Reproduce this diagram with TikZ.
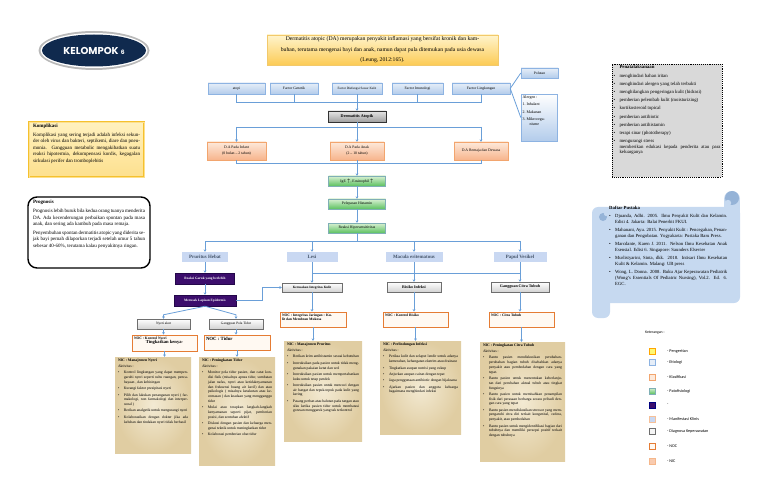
\documentclass[tikz,border=0pt]{standalone}
\usepackage{fontspec}
\setmainfont{Liberation Serif}
\newfontfamily\kfont{Poppins}
\newfontfamily\cfont{Carlito}
\usetikzlibrary{arrows.meta,shapes.geometric,calc}
\tolerance=9999
\emergencystretch=6pt
\newcommand{\fs}[2]{\fontsize{#1}{#2}\selectfont}
\newlength\itgap
\setlength\itgap{1.6pt}
\newcommand{\bitm}[1]{\par\vspace{\itgap}\hangindent=6pt\hangafter=1\noindent\hbox to 6pt{\textbullet\hfil}#1}
\definecolor{conc}{HTML}{6A9FD8}
\definecolor{navy}{HTML}{102A4E}
\definecolor{etiob}{HTML}{8DB3E2}
\definecolor{etiot}{HTML}{E6EEF8}
\definecolor{etiobot}{HTML}{B3CCEB}
\definecolor{klasb}{HTML}{F2A56E}
\definecolor{klast}{HTML}{FDE9DA}
\definecolor{klasbot}{HTML}{F7B48C}
\definecolor{patob}{HTML}{7FAFB5}
\definecolor{patot}{HTML}{D8F0D3}
\definecolor{patobot}{HTML}{5CC160}
\definecolor{manif}{HTML}{C9D8F2}
\definecolor{maniftxt}{HTML}{44546A}
\definecolor{purp}{HTML}{3C0E6C}
\definecolor{purpb}{HTML}{24084A}
\definecolor{diagb}{HTML}{6E6E6E}
\definecolor{nocb}{HTML}{E57C34}
\definecolor{nocf}{HTML}{FFF9F2}
\definecolor{nicin}{HTML}{F3EAD3}
\definecolor{nicout}{HTML}{E0CDA2}
\definecolor{defT}{HTML}{FFF4CC}
\definecolor{defB}{HTML}{FCCB55}
\definecolor{defb}{HTML}{F2C96B}
\definecolor{kompT}{HTML}{FFF1BF}
\definecolor{kompB}{HTML}{FDE08E}
\definecolor{kompb}{HTML}{F5C12E}
\definecolor{penf}{HTML}{D9D9D9}
\definecolor{scrollc}{HTML}{C6D9F0}
\definecolor{scrolld}{HTML}{95B3D7}
\begin{document}
\begin{tikzpicture}[x=1pt,y=-1pt,
 con/.style={draw=conc, line width=0.8pt},
 arr/.style={con, -{Stealth[length=2.4pt,width=2.8pt]}},
 box/.style={inner sep=0.6pt, align=center, line width=0.45pt},
 etio/.style={box, draw=etiob, top color=etiot, bottom color=etiobot, font={\fs{3.7}{4.4}}},
 klas/.style={box, draw=klasb, top color=klast, bottom color=klasbot, font={\fs{3.8}{6}}},
 pato/.style={box, draw=patob, top color=patot, bottom color=patobot, font={\fs{3.8}{4.5}}},
 manbox/.style={box, fill=manif, text=maniftxt, font={\fs{4.9}{5.5}\bfseries}},
 purpbox/.style={box, fill=purp, draw=purpb, text=white, font={\fs{3.4}{4}\bfseries}},
 diag/.style={box, draw=diagb, top color=white, bottom color=gray!35, font={\fs{3.6}{4.2}\bfseries}},
 nocbox/.style={inner sep=1.5pt, draw=nocb, fill=nocf, line width=0.9pt, font={\fs{3.6}{4.5}\bfseries}},
 nicbox/.style={inner sep=0pt, inner color=nicin, outer color=nicout, font={\fs{3.75}{4.75}}},
 swatch/.style={minimum width=6, minimum height=6, inner sep=0, line width=0.6pt},
 leglab/.style={anchor=west, inner sep=0, font={\cfont\fs{4.2}{5}}}
]
\useasboundingbox (0,0) rectangle (768,497);

% title
\node[ellipse, fill=gray!55, minimum width=111, minimum height=39, inner sep=0] (kel) at (94,50.5) {};
\node[ellipse, fill=white, minimum width=107, minimum height=35, inner sep=0] (kelr) at (kel) {};
\node[ellipse, fill=navy, minimum width=104, minimum height=32, inner sep=0, text=white] (keli) at (kel) {\kfont\bfseries\fs{10}{12}KELOMPOK {\fs{6}{7}6}};

% definition
\node[box, draw=defb, top color=defT, bottom color=defB, minimum width=231, minimum height=30, font={\fs{5.7}{10.5}}] (def) at (382.5,50) {Dermatitis atopic (DA) merupakan penyakit inflamasi yang bersifat kronik dan kam-\\buhan, terutama mengenai bayi dan anak, namun dapat pula ditemukan pada usia dewasa\\(Leung, 2012:165).};

% etiology
\node[etio, minimum width=57, minimum height=11] (e1) at (236.5,88.5) {atopi};
\node[etio, minimum width=48, minimum height=11] (e2) at (294,88.5) {Factor Genetik};
\node[etio, minimum width=50, minimum height=11, font={\fs{3.3}{4}}] (e3) at (357,88.5) {Factor Disfungsi Sawar Kulit};
\node[etio, minimum width=51, minimum height=11] (e4) at (417.5,88.5) {Factor Imunologi};
\node[etio, minimum width=58, minimum height=11] (e5) at (481,88.5) {Factor Lingkungan};
\node[etio, minimum width=37, minimum height=10] (pol) at (539.5,73) {Polutan};
\node[etio, top color=white, bottom color=etiobot, minimum width=36, minimum height=47, font={\fs{4}{4.8}}] (alg) at (539,117.5) {\parbox[c][44pt][t]{33pt}{Alergen :\par\vspace{2.6pt}1.\ Inhalant\par\vspace{2.6pt}2.\ Makanan\par\vspace{2.6pt}\hangindent=7pt\hangafter=1 3.\ Mikroorga-\\nisme}};
\coordinate (j1) at (236.5,102);
\draw[con] (e1.south) |- (e5.south |- j1) -- (e5.south);
\draw[con] (e2.south) -- (e2.south |- j1);
\draw[con] (e4.south) -- (e4.south |- j1);
\draw[con] (e5.east) -- (pol.west);
\draw[con] (e5.east) -- (alg.west);

% dermatitis atopik
\node[box, draw=gray!40!black, top color=gray!20, bottom color=gray!75, minimum width=58, minimum height=11, font={\fs{4.2}{5}\bfseries}] (da) at (357,116.5) {Dermatitis Atopik};
\draw[arr] (e3.south) -- (da.north);

% klasifikasi
\node[klas, minimum width=59, minimum height=18] (k1) at (236.5,151) {D.A Pada Infant\\(0 bulan -- 2 tahun)};
\node[klas, minimum width=54, minimum height=18] (k2) at (357,151) {D.A Pada Anak\\(2 -- 10 tahun)};
\node[klas, minimum width=54, minimum height=18] (k3) at (481,151) {D.A Remaja dan Dewasa};
\coordinate (jk) at (357,127);
\draw[con] (da.south) -- (jk);
\draw[con] (k1.north |- jk) -- (k3.north |- jk);
\draw[arr] (k1.north |- jk) -- (k1.north);
\draw[arr] (jk) -- (k2.north);
\draw[arr] (k3.north |- jk) -- (k3.north);
\coordinate (jk2) at (357,163);
\draw[con] (k1.south) -- (k1.south |- jk2) -- (k3.south |- jk2) -- (k3.south);

% patofisiologi
\node[pato, minimum width=57, minimum height=10] (g1) at (357,181) {IgE $\uparrow$, Eosinophil $\uparrow$};
\node[pato, minimum width=57, minimum height=10] (g2) at (357,204) {Pelepasan Histamin};
\node[pato, minimum width=57, minimum height=10] (g3) at (357,228) {Reaksi Hipersensitivitas};
\draw[arr] (k2.south) -- (g1.north);
\draw[arr] (g1.south) -- (g2.north);
\draw[arr] (g2.south) -- (g3.north);

% manifestasi
\node[manbox, minimum width=46, minimum height=10] (m1) at (205,257) {Pruritus Hebat};
\node[manbox, minimum width=51, minimum height=10] (m2) at (312,257) {Lesi};
\node[manbox, minimum width=57, minimum height=10] (m3) at (414,257) {Macula eritematous};
\node[manbox, minimum width=53, minimum height=10] (m4) at (520,257) {Papul Vesikel};
\coordinate (jm) at (357,241);
\draw[con] (g3.south) -- (jm);
\draw[con] (m1.north |- jm) -- (m4.north |- jm);
\draw[arr] (m1.north |- jm) -- (m1.north);
\draw[arr] (m2.north |- jm) -- (m2.north);
\draw[arr] (m3.north |- jm) -- (m3.north);
\draw[arr] (m4.north |- jm) -- (m4.north);

% pruritus branch
\node[purpbox, minimum width=59, minimum height=11] (p1) at (205,278.5) {Reaksi Garuk yang berlebih};
\node[purpbox, minimum width=62, minimum height=11] (p2) at (205,300.5) {Merusak Lapisan Epidermis};
\draw[arr] (m1.south) -- (p1.north);
\draw[arr] (p1.south) -- (p2.north);

% diagnosa
\node[diag, minimum width=60, minimum height=9, font={\fs{3.3}{4}\bfseries}] (d1) at (312,287.5) {Kerusakan Integritas Kulit};
\node[diag, minimum width=54, minimum height=10, font={\fs{4}{4.8}\bfseries}] (d2) at (414,287) {Risiko Infeksi};
\node[diag, minimum width=58, minimum height=10, font={\fs{4}{4.8}\bfseries}] (d3) at (520,287) {Gangguan Citra Tubuh};
\coordinate (jl) at (312,273);
\draw[con] (m2.south |- jl) -- (m4.south |- jl);
\draw[arr] (m2.south) -- (d1.north);
\draw[arr] (m3.south) -- (d2.north);
\draw[arr] (m4.south) -- (d3.north);
\draw[arr] (p2.east) -- ++(26,0) |- (d1.west);

\node[diag, minimum width=53, minimum height=10, font={\fs{3.5}{4.2}}] (q1) at (163.5,324) {Nyeri akut};
\node[diag, minimum width=54, minimum height=10, font={\fs{3.5}{4.2}}] (q2) at (236,324) {Gangguan Pola Tidur};
\draw[arr] (p2.south) -- ($(q1.north)+(0,-4)$) -- (q1.north);
\draw[arr] (p2.south) -- ($(q2.north)+(0,-4)$) -- (q2.north);

% NOC
\node[nocbox, minimum width=65, minimum height=16] (nk1) at (164.5,343) {\parbox[c][12.5pt][t]{61pt}{NOC : Kontrol Nyeri\par\centering{\fs{4.6}{5.6}Tingkatkan kenya-}\par}};
\node[nocbox, minimum width=66, minimum height=15] (nk2) at (237,342.5) {\parbox[c][11.5pt][t]{62pt}{\fs{4.8}{5.6}NOC : Tidur}};
\node[nocbox, minimum width=66, minimum height=15] (n1) at (313,319.5) {\parbox[c][11.5pt][t]{62pt}{NOC : Integritas Jaringan : Ku-\\lit dan Membran Mukosa}};
\node[nocbox, minimum width=65, minimum height=15] (n2) at (415.5,319.5) {\parbox[c][11.5pt][t]{61pt}{NOC : Kontrol Risiko}};
\node[nocbox, minimum width=65, minimum height=15] (n3) at (521.5,319.5) {\parbox[c][11.5pt][t]{61pt}{NOC : Citra Tubuh}};
\draw[arr] (q1.south) -- (q1.south |- nk1.north);
\draw[arr] (q2.south) -- (q2.south |- nk2.north);
\draw[arr] (d1.south) -- (d1.south |- n1.north);
\draw[arr] (d2.south) -- (d2.south |- n2.north);
\draw[arr] (d3.south) -- (d3.south |- n3.north);

% NIC
\node[nicbox, minimum width=76, minimum height=96] (c4) at (153,405) {\parbox[c][92pt][t]{70pt}{\textbf{NIC : Manajemen Nyeri}\par\vspace{1.2pt}Aktivitas :
\bitm{Kontrol lingkungan yang dapat mempengaruhi nyeri seperti suhu ruangan, pencahayaan , dan kebisingan}
\bitm{Kurangi faktor presipitasi nyeri}
\bitm{Pilih dan lakukan penanganan nyeri ( farmakologi, non farmakologi dan interpersonal )}
\bitm{Berikan analgetik untuk mengurangi nyeri}
\bitm{Kolaborasikan dengan dokter jika ada keluhan dan tindakan nyeri tidak berhasil}}};
\node[nicbox, minimum width=76, minimum height=108] (c5) at (237,411) {\parbox[c][104pt][t]{70pt}{\textbf{NIC : Peningkatan Tidur}\par\vspace{1.2pt}Aktivitas :
\bitm{Monitor pola tidur pasien, dan catat kondisi fisik (misalnya apnea tidur, sumbatan jalan nafas, nyeri atau ketidaknyamanan dan frekuensi buang air kecil) dan atau psikologis ( misalnya ketakutan atau kecemasan ) dan keadaan yang mengganggu tidur}
\bitm{Mulai atau terapkan langkah-langkah kenyamanan seperti pijat, pemberian posisi, dan sentuhan afektif}
\bitm{Diskusi dengan pasien dan keluarga mengenai teknik untuk meningkatkan tidur}
\bitm{Kolaborasi pemberian obat tidur}}};
\node[nicbox, minimum width=78, minimum height=100] (c1) at (323,391) {\parbox[c][96pt][t]{72pt}{\textbf{NIC : Manajemen Pruritus}\par\vspace{1.2pt}Aktivitas :
\bitm{Berikan krim antihistamin sesuai kebutuhan}
\bitm{Instruksikan pada pasien untuk tidak menggunakan pakaian ketat dan wol}
\bitm{Instruksikan pasien untuk mempertahankan kuku untuk tetap pendek}
\bitm{Instruksikan pasien untuk mencuci dengan air hangat dan tepuk-tepuk pada kulit yang kering}
\bitm{Pasang perban atau balutan pada tangan atau siku ketika pasien tidur untuk membatasi goresan menggaruk yang tak terkontrol}}};
\node[nicbox, minimum width=81, minimum height=93] (c2) at (420.5,387.5) {\parbox[c][89pt][t]{75pt}{\textbf{NIC : Perlindungan Infeksi}\par\vspace{1.2pt}Aktivitas :
\bitm{Periksa kulit dan selaput lendir untuk adanya kemerahan, kehangatan ekstrim atau drainase}
\bitm{Tingkatkan asupan nutrisi yang cukup}
\bitm{Anjurkan asupan cairan dengan tepat}
\bitm{Jaga penggunaan antibiotic dengan bijaksana}
\bitm{Ajarkan pasien dan anggota keluarga bagaimana menghindari infeksi}}};
\node[nicbox, minimum width=85, minimum height=119] (c3) at (522.5,401.5) {\parbox[c][115pt][t]{79pt}{\textbf{NIC : Peningkatan Citra Tubuh}\par\vspace{1.2pt}Aktivitas :
\bitm{Bantu pasien mendiskusikan perubahan-perubahan bagian tubuh disebabkan adanya penyakit atau pembedahan dengan cara yang tepat.}
\bitm{Bantu pasien untuk menentukan keberlanjutan dari perubahan aktual tubuh atau tingkat fungsinya}
\bitm{Bantu pasien untuk memisahkan penampilan fisik dari perasaan berharga secara pribadi dengan cara yang tepat}
\bitm{Bantu pasien mendiskusikan stressor yang mempengaruhi citra diri terkait kongenital, cedera, penyakit, atau pembedahan}
\bitm{Bantu pasien untuk mengidentifikasi bagian dari tubuhnya dan memiliki persepsi positif terkait dengan tubuhnya}}};
\draw[arr] (nk1.south) -- (nk1.south |- c4.north);
\draw[arr] (nk2.south) -- (nk2.south |- c5.north);
\draw[arr] (n1.south) -- (n1.south |- c1.north);
\draw[arr] (n2.south) -- (n2.south |- c2.north);
\draw[arr] (n3.south) -- (n3.south |- c3.north);

% komplikasi
\node[draw=kompb, line width=0.6pt, double=kompB, double distance=0.6pt, top color=kompT, bottom color=kompB, minimum width=115, minimum height=55, inner sep=0, font={\fs{5}{6.5}}] (komp) at (86.5,149.5) {\parbox[c][50pt][t]{107pt}{\textbf{Komplikasi}\par\vspace{2pt}Komplikasi yang sering terjadi adalah infeksi sekunder oleh virus dan bakteri, septikemi, diare dan pneumonia. Gangguan metabolic mengakibatkan suatu reaksi hipotermia, dekompensasi kordis, kegagalan sirkulasi perifer dan tromboplebitis}};

% prognosis
\node[draw=black, line width=1.4pt, rounded corners=9pt, fill=white, minimum width=122, minimum height=71, inner sep=0, font={\fs{5}{6.4}}] (prog) at (89,232.5) {\parbox[c][64pt][t]{112pt}{\textbf{Prognosis}\par\vspace{2.5pt}Prognosis lebih buruk bila kedua orang tuanya menderita DA. Ada kecenderungan perbaikan spontan pada masa anak, dan sering ada kambuh pada masa remaja.\par\vspace{2.5pt}Penyembuhan spontan dermatitis atopic yang diderita sejak bayi pernah dilaporkan terjadi setelah umur 5 tahun sebesar 40-60\%, terutama kalau penyakitnya ringan.}};

% penatalaksanaan
\node[draw=black, densely dotted, line width=0.9pt, fill=penf, minimum width=110, minimum height=113, inner sep=0, font={\fs{4.8}{5.4}}] (pen) at (667,120.5) {\parbox[c][110pt][t]{107pt}{\setlength\itgap{2.8pt}\hspace*{6pt}\textbf{Penatalaksanaan}
\bitm{menghindari bahan iritan}
\bitm{menghindari alergen yang telah terbukti}
\bitm{menghilangkan pengeringan kulit (hidrasi)}
\bitm{pemberian pelembab kulit (moisturizing)}
\bitm{kortikosteroid topical}
\bitm{pemberian antibiotic}
\bitm{pemberian antihistamin}
\bitm{terapi sinar (phototherapy)}
\bitm{mengurangi stress\\ memberikan edukasi kepada penderita atau para keluarganya}}};

% daftar pustaka scroll
\fill[scrollc, rounded corners=6pt] (592,207) rectangle (740,303);
\fill[scrollc] (732,199) circle (8);
\fill[scrollc] (724,199) rectangle (740,212);
\fill[scrollc, rounded corners=6pt] (592,285) rectangle (610,318);
\fill[scrolld] (732,198) circle (7);
\fill[scrollc] (728,203) circle (3.2);
\fill[scrolld] (603,217) circle (4);
\fill[scrollc] (606,214) circle (2);
\node[anchor=north west, inner sep=0, font={\fs{4.7}{6}}] (dp) at (609,205.5) {\parbox{118pt}{\setlength\itgap{2pt}\textbf{Daftar Pustaka}
\bitm{Djuanda, Adhi. 2005. Ilmu Penyakit Kulit dan Kelamin. Edisi 4. Jakarta: Balai Penerbit FKUI.}
\bitm{Mahanani, Ayu. 2015. Penyakit Kulit : Pencegahan, Penanganan dan Pengobatan. Yogyakarta: Pustaka Baru Press.}
\bitm{Marcdante, Karen J. 2011. Nelson Ilmu Kesehatan Anak Esensial. Edisi 6. Singapore: Saunders Elsevier}
\bitm{Murlistyarini, Sinta, dkk. 2018. Intisari Ilmu Kesehatan Kulit \& Kelamin. Malang: UB press}
\bitm{Wong, L. Donna. 2008. Buku Ajar Keperawatan Pediatrik (Wong's Essentials Of Pediatric Nursing), Vol.2. Ed. 6. EGC.}}};

% legend
\node[anchor=west, inner sep=0, font={\cfont\fs{3.8}{4.5}}] (ket) at (645,333) {Keterangan :};
\node[swatch, fill=yellow!55, draw=orange!70!yellow] (s1) at (652,351) {};
\node[swatch, fill=etiot, draw=etiob] (s2) at (652,362) {};
\node[swatch, fill=klast, draw=klasb] (s3) at (652,377) {};
\node[swatch, top color=patot, bottom color=patobot, draw=patob] (s4) at (652,391) {};
\node[swatch, fill=purp, draw=blue!50!black] (s5) at (652,405) {};
\node[swatch, fill=manif, draw=klasb!70] (s6) at (652,419) {};
\node[swatch, fill=gray!8, draw=diagb] (s7) at (652,431) {};
\node[swatch, fill=nocf, draw=nocb, line width=0.9pt] (s8) at (652,446) {};
\node[swatch, fill=klasbot!70, draw=klasb!80] (s9) at (652,461) {};
\node[leglab] (l1) at (667,351) {- Pengertian};
\node[leglab] (l2) at (667,362) {- Etiologi};
\node[leglab] (l3) at (667,377) {- Klasifikasi};
\node[leglab] (l4) at (667,391) {- Patofisiologi};
\node[leglab] (l5) at (667,405) {-};
\node[leglab] (l6) at (667,419) {- Manifestasi Klinis};
\node[leglab] (l7) at (667,431) {- Diagnosa Keperawatan};
\node[leglab] (l8) at (667,446) {- NOC};
\node[leglab] (l9) at (667,461) {- NIC};
\end{tikzpicture}
\end{document}
